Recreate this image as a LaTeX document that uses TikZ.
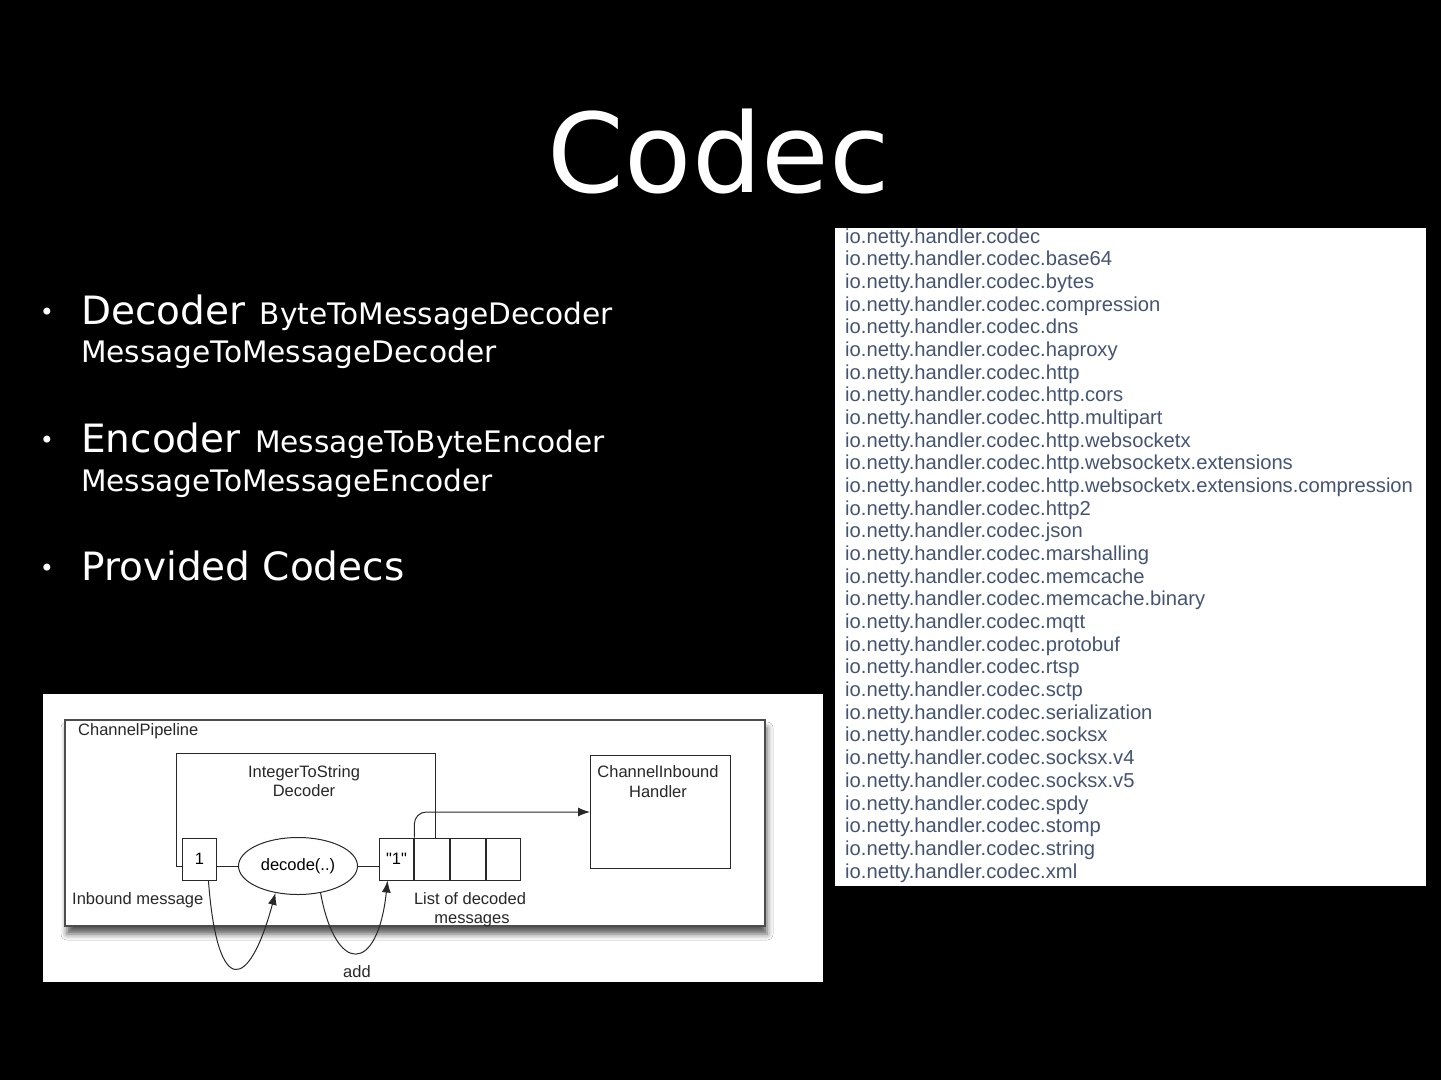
\documentclass[tikz,border=0pt]{standalone}
\usepackage{fontspec}
\setmainfont{DejaVu Sans}
\newfontfamily\figfont{Liberation Sans}
\usetikzlibrary{positioning, calc, arrows.meta, shapes.geometric, shadows.blur}
\definecolor{listblue}{RGB}{68,84,114}
\definecolor{figline}{RGB}{40,40,40}

\begin{document}
\begin{tikzpicture}[x=1pt, y=-1pt]
        \def\colorslide{white}
        \def\colorfig{figline}
        \tikzset{slidetitle/.style={anchor=base, inner sep=0,
                text=\colorslide,
                font=\fontsize{110}{132}\selectfont
        }}
        \tikzset{bulletmark/.style={anchor=base, inner sep=0,
                text=\colorslide,
                font=\fontsize{24}{28}\selectfont
        }}
        \tikzset{bigtext/.style={anchor=base west, inner sep=0,
                text=\colorslide,
                font=\fontsize{39}{46}\selectfont
        }}
        \tikzset{smalltext/.style={anchor=base west, inner sep=0,
                text=\colorslide,
                font=\fontsize{29.6}{35}\selectfont
        }}
        \tikzset{pkgline/.style={anchor=base west, inner sep=0,
                text=listblue,
                font=\figfont\fontsize{20.2}{22.7}\selectfont
        }}
        \tikzset{box/.style={draw=\colorfig,
                line width = 1,
                fill=white,
                inner sep=0
        }}
        \tikzset{cell/.style={box,
                minimum width = 34.7,
                minimum height = 42,
                font=\figfont\fontsize{16.5}{19}\selectfont
        }}
        \tikzset{figtext/.style={inner sep=0,
                text=\colorfig,
                font=\figfont\fontsize{16.5}{19.5}\selectfont
        }}
        \tikzset{connector/.style={draw=\colorfig, line width=1,
                -{Latex[length=12, width=9]}}}

        % slide
        \fill[black] (0,0) rectangle (1441,1080);
        \useasboundingbox (0,0) rectangle (1441,1080);

        \node[slidetitle] (title) at (719,192) {Codec};

        \node[bulletmark] (b1) at (47,320) {•};
        \node[bigtext] (decoder) at (81,324) {Decoder};
        \node[smalltext, right=14 of decoder.base east, anchor=base west] (decoderA) {ByteToMessageDecoder};
        \node[smalltext] (decoderB) at (81,362) {MessageToMessageDecoder};

        \node[bulletmark] (b2) at (47,448) {•};
        \node[bigtext] (encoder) at (81,452) {Encoder};
        \node[smalltext, right=14 of encoder.base east, anchor=base west] (encoderA) {MessageToByteEncoder};
        \node[smalltext] (encoderB) at (81,491) {MessageToMessageEncoder};

        \node[bulletmark] (b3) at (47,576) {•};
        \node[bigtext] (provided) at (81,580) {Provided Codecs};

        % package list
        \fill[white] (835,228) rectangle (1426,886);
        \foreach \pkg [count=\i from 0] in {io.netty.handler.codec,
                io.netty.handler.codec.base64,
                io.netty.handler.codec.bytes,
                io.netty.handler.codec.compression,
                io.netty.handler.codec.dns,
                io.netty.handler.codec.haproxy,
                io.netty.handler.codec.http,
                io.netty.handler.codec.http.cors,
                io.netty.handler.codec.http.multipart,
                io.netty.handler.codec.http.websocketx,
                io.netty.handler.codec.http.websocketx.extensions,
                io.netty.handler.codec.http.websocketx.extensions.compression,
                io.netty.handler.codec.http2,
                io.netty.handler.codec.json,
                io.netty.handler.codec.marshalling,
                io.netty.handler.codec.memcache,
                io.netty.handler.codec.memcache.binary,
                io.netty.handler.codec.mqtt,
                io.netty.handler.codec.protobuf,
                io.netty.handler.codec.rtsp,
                io.netty.handler.codec.sctp,
                io.netty.handler.codec.serialization,
                io.netty.handler.codec.socksx,
                io.netty.handler.codec.socksx.v4,
                io.netty.handler.codec.socksx.v5,
                io.netty.handler.codec.spdy,
                io.netty.handler.codec.stomp,
                io.netty.handler.codec.string,
                io.netty.handler.codec.xml}
                \node[pkgline] (pkg\i) at (845,243+22.68*\i) {\pkg};

        % pipeline figure
        \fill[white] (43,694) rectangle (823,982);
        \node[box, line width=1.5, draw=gray!60!black, minimum width=700, minimum height=206,
                blur shadow={shadow xshift=2, shadow yshift=-8, shadow blur radius=6, shadow opacity=65}]
                (pipeline) at (415,823) {};
        \node[figtext, anchor=base west] (pipelinelbl) at (78,735) {ChannelPipeline};

        \node[box, minimum width=259, minimum height=113, anchor=north west] (decbox) at (176,753) {};
        \node[figtext, anchor=base] (dectxtA) at (304,777) {IntegerToString};
        \node[figtext, anchor=base] (dectxtB) at (304,796) {Decoder};

        \node[box, minimum width=140, minimum height=113, anchor=north west] (handler) at (590,755) {};
        \node[figtext, anchor=base] (handtxtA) at (658,777) {ChannelInbound};
        \node[figtext, anchor=base] (handtxtB) at (658,797) {Handler};

        \node[cell] (in1) at (199.5,859) {1};
        \node[box, ellipse, minimum width=119, minimum height=57,
                font=\figfont\fontsize{16.5}{19}\selectfont] (decode) at (298,866) {decode(..)};
        \node[cell] (out1) at (396.5,859) {"1"};
        \node[cell, right=0 of out1] (out2) {};
        \node[cell, right=0 of out2] (out3) {};
        \node[cell, right=0 of out3] (out4) {};
        \draw[draw=\colorfig, line width=1] (decode.west -| in1.east) -- (decode.west);
        \draw[draw=\colorfig, line width=1] (decode.east) -- (decode.east -| out1.west);

        \node[figtext, anchor=base west] (inlbl) at (72,904) {Inbound message};
        \node[figtext, anchor=base] (listlblA) at (470,904) {List of decoded};
        \node[figtext, anchor=base] (listlblB) at (472,923) {messages};
        \node[figtext, anchor=base] (addlbl) at (357,977) {add};

        \coordinate (intail) at ($(in1.south)!0.5!(in1.south east)$);
        \coordinate (outhead) at ($(out1.south west)!0.25!(out1.south east)$);
        \draw[connector] (intail) .. controls +(9,120) and +(-26,97) .. (decode.230);
        \draw[connector] (decode.310) .. controls +(15,82) and +(-10,94) .. (outhead);
        \draw[connector, rounded corners=12] (out2.north west) |- (handler.west);
\end{tikzpicture}
\end{document}
